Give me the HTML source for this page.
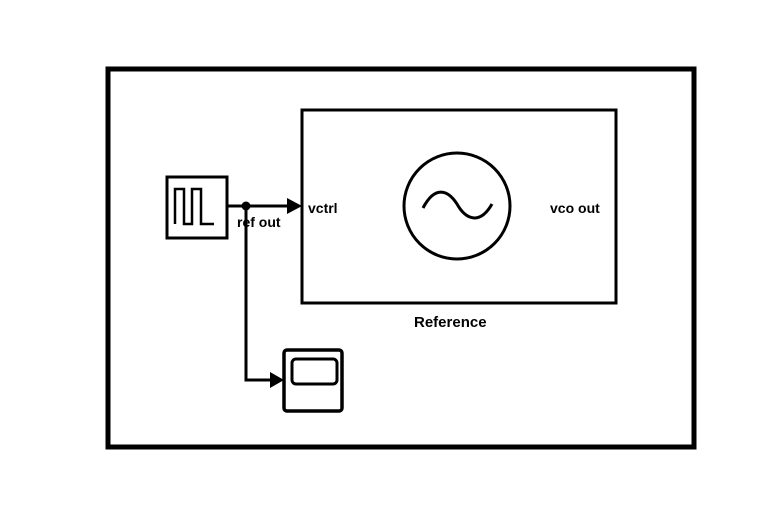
<!DOCTYPE html>
<html><head><style>body{margin:0;background:#fff;}</style></head><body>
<svg width="768" height="507" xmlns="http://www.w3.org/2000/svg" font-family="Liberation Sans, sans-serif">
<rect x="108" y="69" width="586" height="378" fill="#fff" stroke="#000" stroke-width="5"/>
<rect x="302" y="110" width="314" height="193" fill="#fff" stroke="#000" stroke-width="3"/>
<circle cx="457" cy="206" r="53" fill="none" stroke="#000" stroke-width="3"/>
<path d="M423 208 C435 185,448 190,457 204 C466 220,480 225,492 204" fill="none" stroke="#000" stroke-width="3"/>
<text x="308" y="213" font-size="14" font-weight="bold">vctrl</text>
<text x="550" y="213" font-size="14" font-weight="bold">vco out</text>
<text x="414" y="327" font-size="15" font-weight="bold">Reference</text>
<rect x="167" y="177" width="60" height="61" fill="#fff" stroke="#000" stroke-width="3"/>
<path d="M175 224 V189 H184 V224 H192 V189 H201 V224 H214" fill="none" stroke="#000" stroke-width="2.5"/>
<line x1="227" y1="206" x2="290" y2="206" stroke="#000" stroke-width="3"/>
<polygon points="287,198 302,206 287,214" fill="#000"/>
<circle cx="246" cy="206" r="4.5" fill="#000"/>
<text x="237" y="227" font-size="14" font-weight="bold">ref out</text>
<polyline points="246,206 246,380 272,380" fill="none" stroke="#000" stroke-width="3"/>
<polygon points="270,372 284,380 270,388" fill="#000"/>
<rect x="284" y="350" width="58" height="61" rx="3" fill="#fff" stroke="#000" stroke-width="3.5"/>
<rect x="292" y="359" width="45" height="25" rx="4" fill="#fff" stroke="#000" stroke-width="3"/>
</svg>
</body></html>
